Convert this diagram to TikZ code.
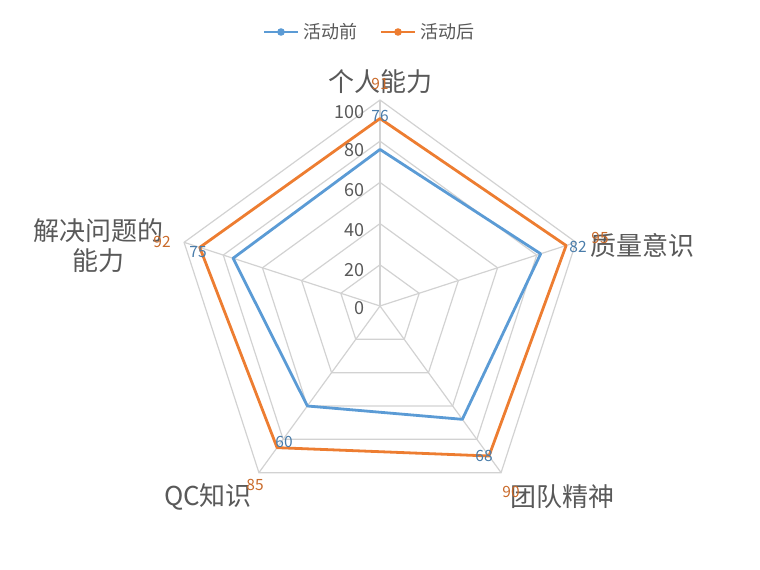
\documentclass[tikz,border=0pt]{standalone}
\usepackage{fontspec}
\usetikzlibrary{calc}
\setmainfont{Noto Sans CJK SC}
\begin{document}
\begin{tikzpicture}[x=1pt,y=1pt,
  grid/.style={draw=gray!35,line width=1.2pt},
  ser/.style={line width=2.8pt,line join=round},
  cat/.style={text=black!65,font=\fontsize{26}{30}\selectfont},
  axl/.style={text=black!65,font=\fontsize{18}{20}\selectfont,anchor=east},
  bl/.style={text=sb!80!black,font=\fontsize{15.5}{16}\selectfont},
  ol/.style={text=so!85!black,font=\fontsize{15.5}{16}\selectfont},
  leg/.style={text=black!65,font=\fontsize{18}{20}\selectfont,anchor=west}]
\definecolor{sb}{HTML}{5B9BD5}\definecolor{so}{HTML}{ED7D31}
\useasboundingbox (0,0) rectangle (760,570);
\coordinate (c) at (380,264);
\foreach \v in {20,40,...,100}{
  \draw[grid] ($(c)+(90:2.06*\v)$) \foreach \a in {18,-54,-126,162}{ -- ($(c)+(\a:2.06*\v)$)} -- cycle;}
\foreach \a in {90,18,-54,-126,162} \draw[grid] (c) -- ($(c)+(\a:206)$);
\draw[ser,sb] ($(c)+(90:2.06*76)$) coordinate(b1) -- ($(c)+(18:2.06*82)$) coordinate(b2) -- ($(c)+(-54:2.06*68)$) coordinate(b3) -- ($(c)+(-126:2.06*60)$) coordinate(b4) -- ($(c)+(162:2.06*75)$) coordinate(b5) -- cycle;
\draw[ser,so] ($(c)+(90:2.06*91)$) coordinate(o1) -- ($(c)+(18:2.06*95)$) coordinate(o2) -- ($(c)+(-54:2.06*90)$) coordinate(o3) -- ($(c)+(-126:2.06*85)$) coordinate(o4) -- ($(c)+(162:2.06*92)$) coordinate(o5) -- cycle;
\node[axl] (a100) at (368,458) {100};
\node[axl] (a80) at (368,420) {80};
\node[axl] (a60) at (368,380) {60};
\node[axl] (a40) at (368,340) {40};
\node[axl] (a20) at (368,300) {20};
\node[axl] (a0) at (368,262) {0};
\node[cat] (k1) at (380,488) {个人能力};
\node[cat] (k2) at (642,325) {质量意识};
\node[cat] (k3) at (562,73) {团队精神};
\node[cat] (k4) at (208,73) {QC知识};
\node[cat,align=center] (k5) at (98,324) {解决问题的\\能力};
\node[bl] (l1) at (380,454) {76};
\node[ol] (m1) at (380,486) {91};
\node[bl] (l2) at (578,323) {82};
\node[ol] (m2) at (600,332) {95};
\node[bl] (l3) at (484,114) {68};
\node[ol] (m3) at (511,78) {90};
\node[bl] (l4) at (284,128) {60};
\node[ol] (m4) at (255,85) {85};
\node[bl] (l5) at (198,318) {75};
\node[ol] (m5) at (162,328) {92};
\draw[sb,line width=2.8pt] (264,538) -- (298,538);
\fill[sb] (281,538) circle (3.8);
\node[leg] (t1) at (300,538) {活动前};
\draw[so,line width=2.8pt] (381,538) -- (415,538);
\fill[so] (398,538) circle (3.8);
\node[leg] (t2) at (417,538) {活动后};
\end{tikzpicture}
\end{document}
